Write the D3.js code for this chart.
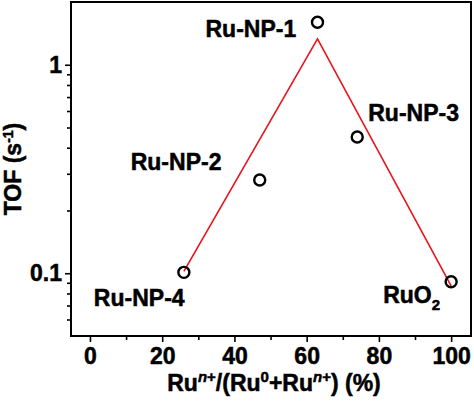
<!DOCTYPE html>
<html><head><meta charset="utf-8">
<script src="https://cdn.jsdelivr.net/npm/d3@7"></script>
<style>
html,body{margin:0;padding:0;background:#fff;}
svg{display:block;font-family:"Liberation Sans",Arial,sans-serif;font-weight:bold;}
</style></head>
<body><svg id="c" width="474" height="402"></svg>
<script>
// ---- data ----
const samples = ["Ru-NP-4", "Ru-NP-2", "Ru-NP-1", "Ru-NP-3", "RuO2"];
const ratio = [26, 47, 63, 74, 100];          // Ru n+ / (Ru0 + Ru n+) (%)
const tof = [0.101, 0.28, 1.6, 0.45, 0.091];   // TOF (s^-1)
const trendX = [26, 63, 100];
const trendY = [0.102, 1.33, 0.087];
const xTickValues = [0, 20, 40, 60, 80, 100];
const xMinorValues = [10, 30, 50, 70, 90];
const yTickValues = [0.1, 1];
const yTickLabels = ["0.1", "1"];
const yMinorValues = [0.06, 0.07, 0.08, 0.09, 0.2, 0.3, 0.4, 0.5, 0.6, 0.7, 0.8, 0.9];

// ---- layout ----
const L = 71, R = 471, T = 2, B = 336;
const FS = "23px";
const svg = d3.select("#c");
const x = d3.scaleLinear().domain([-5.25, 105.5]).range([L, R]);
const y = d3.scaleLog().domain([0.05, 2]).range([B, T]);

// label offsets (px) relative to each point
const labelOffsets = [[-90, 34], [-129, -10], [-112, 15], [11, -16], [-68, 21]];

function heavy(sel) {
  sel.attr("fill", "#000").attr("stroke", "#000").attr("stroke-width", 0.5)
    .style("font-size", FS).style("font-weight", "bold")
    .style("font-family", '"Liberation Sans", Arial, sans-serif');
}

// axes
const xAxis = d3.axisBottom(x).tickValues(xTickValues).tickFormat(d3.format("d")).tickSize(6).tickPadding(6);
const xMinor = d3.axisBottom(x).tickValues(xMinorValues).tickFormat("").tickSize(4);
const yAxis = d3.axisLeft(y).tickValues(yTickValues).tickFormat((d, i) => yTickLabels[i]).tickSize(6).tickPadding(3);
const yMinor = d3.axisLeft(y).tickValues(yMinorValues).tickFormat("").tickSize(4);

function style(g) {
  g.select(".domain").remove();
  g.selectAll("line").attr("stroke", "#000").attr("stroke-width", 1.6);
  g.selectAll("text").call(heavy);
}
svg.append("g").attr("transform", `translate(0,${B})`).call(xAxis).call(style);
svg.append("g").attr("transform", `translate(0,${B})`).call(xMinor).call(style);
svg.append("g").attr("transform", `translate(${L},0)`).call(yAxis).call(style);
svg.append("g").attr("transform", `translate(${L},0)`).call(yMinor).call(style);

// frame
svg.append("rect").attr("x", L).attr("y", T).attr("width", R - L).attr("height", B - T)
  .attr("fill", "none").attr("stroke", "#000").attr("stroke-width", 2);

// trend line
const line = d3.line().x(d => x(d[0])).y(d => y(d[1]));
svg.append("path").datum(trendX.map((v, i) => [v, trendY[i]]))
  .attr("d", line).attr("fill", "none").attr("stroke", "#e8141c").attr("stroke-width", 1.6);

// points
svg.append("g").selectAll("circle").data(ratio).join("circle")
  .attr("cx", d => x(d)).attr("cy", (d, i) => y(tof[i])).attr("r", 5.5)
  .attr("fill", "none").attr("stroke", "#000").attr("stroke-width", 2.4);

// labels
const lab = svg.append("g").selectAll("text").data(samples).join("text")
  .attr("x", (d, i) => x(ratio[i]) + labelOffsets[i][0])
  .attr("y", (d, i) => y(tof[i]) + labelOffsets[i][1])
  .call(heavy);
lab.each(function(d) {
  const t = d3.select(this);
  const m = d.match(/^(RuO)(\d)$/);
  if (m) {
    t.append("tspan").text(m[1]);
    t.append("tspan").attr("dy", 7).style("font-size", "15px").text(m[2]);
  } else t.text(d);
});

// x title
const xt = svg.append("text").attr("x", 274).attr("y", 391).attr("text-anchor", "middle").call(heavy);
xt.append("tspan").text("Ru");
xt.append("tspan").attr("dy", -9).style("font-size", "15px").style("font-style", "italic").text("n");
xt.append("tspan").style("font-size", "15px").text("+");
xt.append("tspan").attr("dy", 9).text("/(Ru");
xt.append("tspan").attr("dy", -9).style("font-size", "15px").text("0");
xt.append("tspan").attr("dy", 9).text("+Ru");
xt.append("tspan").attr("dy", -9).style("font-size", "15px").style("font-style", "italic").text("n");
xt.append("tspan").style("font-size", "15px").text("+");
xt.append("tspan").attr("dy", 9).text(") (%)");

// y title
const yt = svg.append("text").attr("transform", "translate(21,169) rotate(-90)").attr("text-anchor", "middle").call(heavy);
yt.append("tspan").text("TOF (s");
yt.append("tspan").attr("dy", -8).style("font-size", "14px").text("-1");
yt.append("tspan").attr("dy", 8).text(")");
</script></body></html>
